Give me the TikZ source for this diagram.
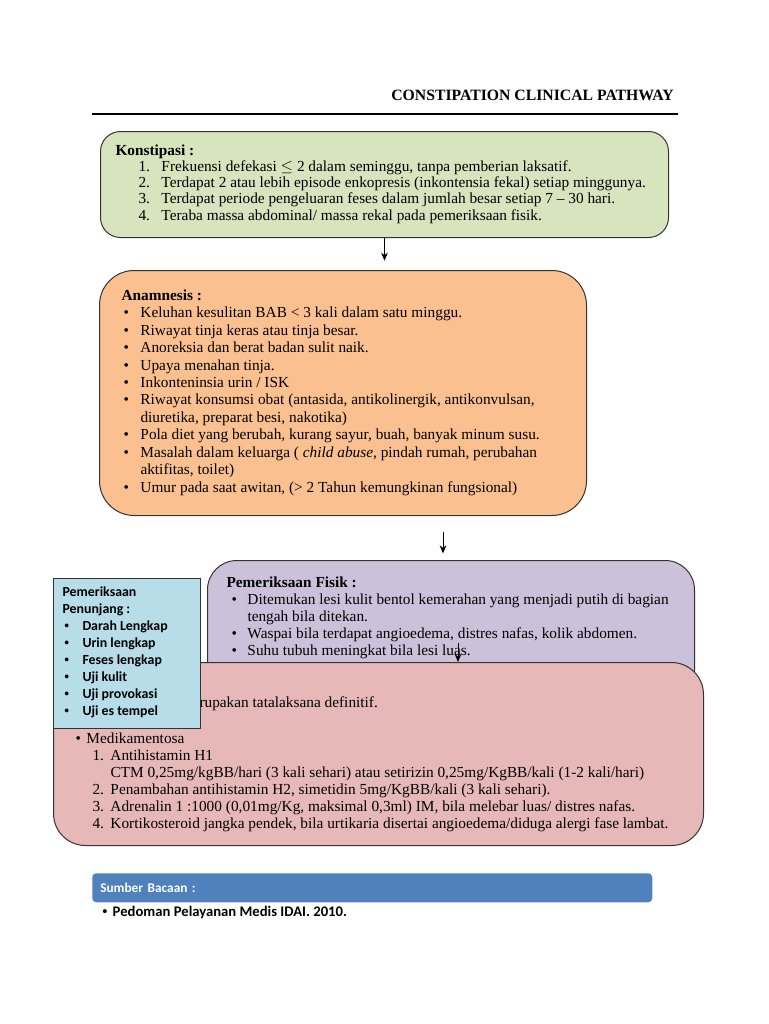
\documentclass[tikz,border=0pt]{standalone}
\usepackage{fontspec}
\setmainfont{Liberation Serif}
\newfontfamily\calibri{Carlito}
\usetikzlibrary{arrows.meta}

\definecolor{boxline}{HTML}{333333}
\definecolor{konstfill}{HTML}{D7E4BD}
\definecolor{anamfill}{HTML}{FAC090}
\definecolor{fisikfill}{HTML}{CCC1DA}
\definecolor{terapifill}{HTML}{E6B9B8}
\definecolor{tunjangfill}{HTML}{B7DDE8}
\definecolor{sumberfill}{HTML}{4F81BD}

% list line: label offset, text offset, label
\newcommand{\litem}[3]{\par\hangindent=#2\hangafter=1\noindent\makebox[#2][l]{\hspace*{#1}#3}\ignorespaces}
\newcommand{\sbul}{{\fontspec{Liberation Serif}\textbullet}}

\tikzstyle{pathbox}=[draw=boxline, line width=0.75pt, anchor=north west, inner sep=0pt]
\tikzstyle{arrowdown}=[line width=0.7pt, -{Stealth[length=6pt,width=5pt]}]

\begin{document}
\begin{tikzpicture}[x=0.75pt, y=-0.75pt]
\useasboundingbox (0,0) rectangle (768,1024);
% header
\node (title) [anchor=base east, inner sep=0pt, font=\bfseries\fontsize{11.8}{13}\selectfont] at (674,100) {CONSTIPATION CLINICAL PATHWAY};
\coordinate (ruleL) at (92,114);
\coordinate (ruleR) at (678,114);
\draw[line width=1.5pt] (ruleL) -- (ruleR);

% boxes
\node (konst) [pathbox, fill=konstfill, rounded corners=15pt, inner xsep=11.25pt, inner ysep=9.75pt] at (100,131) {\begin{minipage}[t][60pt][t]{403.5pt}\fontsize{11.5}{12.2}\selectfont\raggedright
\textbf{Konstipasi :}
\litem{17.25pt}{34.5pt}{1.} Frekuensi defekasi $\leq$ 2 dalam seminggu, tanpa pemberian laksatif.
\litem{17.25pt}{34.5pt}{2.} Terdapat 2 atau lebih episode enkopresis (inkontensia fekal) setiap minggunya.
\litem{17.25pt}{34.5pt}{3.} Terdapat periode pengeluaran feses dalam jumlah besar setiap 7 -- 30 hari.
\litem{17.25pt}{34.5pt}{4.} Teraba massa abdominal/ massa rekal pada pemeriksaan fisik.
\end{minipage}};

\node (anam) [pathbox, fill=anamfill, rounded corners=26pt, inner xsep=16.5pt, inner ysep=14.25pt] at (99,270) {\begin{minipage}[t][155.25pt][t]{332.25pt}\fontsize{11.5}{13.1}\selectfont\raggedright
\textbf{Anamnesis :}
\litem{1.5pt}{14.25pt}{\textbullet} Keluhan kesulitan BAB < 3 kali dalam satu minggu.
\litem{1.5pt}{14.25pt}{\textbullet} Riwayat tinja keras atau tinja besar.
\litem{1.5pt}{14.25pt}{\textbullet} Anoreksia dan berat badan sulit naik.
\litem{1.5pt}{14.25pt}{\textbullet} Upaya menahan tinja.
\litem{1.5pt}{14.25pt}{\textbullet} Inkonteninsia urin / ISK
\litem{1.5pt}{14.25pt}{\textbullet} Riwayat konsumsi obat (antasida, antikolinergik, antikonvulsan, diuretika, preparat besi, nakotika)
\litem{1.5pt}{14.25pt}{\textbullet} Pola diet yang berubah, kurang sayur, buah, banyak minum susu.
\litem{1.5pt}{14.25pt}{\textbullet} Masalah dalam keluarga ( \textit{child abuse}, pindah rumah, perubahan aktifitas, toilet)
\litem{1.5pt}{14.25pt}{\textbullet} Umur pada saat awitan, (> 2 Tahun kemungkinan fungsional)
\end{minipage}};

\node (fisik) [pathbox, fill=fisikfill, rounded corners=22pt, inner xsep=14.25pt, inner ysep=12pt] at (207,560) {\begin{minipage}[t][81pt][t]{336.75pt}\fontsize{11.5}{12.75}\selectfont\raggedright
\textbf{Pemeriksaan Fisik :}
\litem{3.75pt}{15.75pt}{\textbullet} Ditemukan lesi kulit bentol kemerahan yang menjadi putih di bagian tengah bila ditekan.
\litem{3.75pt}{15.75pt}{\textbullet} Waspai bila terdapat angioedema, distres nafas, kolik abdomen.
\litem{3.75pt}{15.75pt}{\textbullet} Suhu tubuh meningkat bila lesi luas.
\end{minipage}};

\node (terapi) [pathbox, fill=terapifill, rounded corners=24pt, inner xsep=12.75pt, inner ysep=10pt] at (53,662) {\begin{minipage}[t][117.25pt][t]{462pt}\fontsize{11.5}{12.75}\selectfont\raggedright
\vspace*{15.5pt}\hspace*{96.75pt}rupakan tatalaksana definitif.\par
\vspace{14.25pt}
\litem{3.75pt}{12pt}{\textbullet} Medikamentosa
\litem{16.5pt}{30pt}{1.} Antihistamin H1\par
\hspace*{30pt}CTM 0,25mg/kgBB/hari (3 kali sehari) atau setirizin 0,25mg/KgBB/kali (1-2 kali/hari)
\litem{16.5pt}{30pt}{2.} Penambahan antihistamin H2, simetidin 5mg/KgBB/kali (3 kali sehari).
\litem{16.5pt}{30pt}{3.} Adrenalin 1 :1000 (0,01mg/Kg, maksimal 0,3ml) IM, bila melebar luas/ distres nafas.
\litem{16.5pt}{30pt}{4.} Kortikosteroid jangka pendek, bila urtikaria disertai angioedema/diduga alergi fase lambat.
\end{minipage}};

\node (tunjang) [pathbox, fill=tunjangfill, inner xsep=6.75pt, inner ysep=6.5pt] at (53,578) {\begin{minipage}[t][99.5pt][t]{96.75pt}\calibri\bfseries\fontsize{10.4}{12.75}\selectfont
Pemeriksaan\par
Penunjang :
\litem{1.5pt}{15pt}{\sbul} Darah Lengkap
\litem{1.5pt}{15pt}{\sbul} Urin lengkap
\litem{1.5pt}{15pt}{\sbul} Feses lengkap
\litem{1.5pt}{15pt}{\sbul} Uji kulit
\litem{1.5pt}{15pt}{\sbul} Uji provokasi
\litem{1.5pt}{15pt}{\sbul} Uji es tempel
\end{minipage}};

% arrows
\coordinate (fork2) at (443,532);
\coordinate (fork3) at (458,643);
\draw[arrowdown, shorten >=7pt] (konst.south) -- (konst.south |- anam.north);
\draw[arrowdown, shorten >=5pt] (fork2) -- (fork2 |- fisik.north);
\draw[arrowdown] (fork3) -- (fork3 |- terapi.north);

% sources
\node (sumber) [anchor=north west, fill=sumberfill, rounded corners=3pt, minimum width=420pt, minimum height=21.75pt, inner xsep=6pt, text width=408pt, text=white, font=\calibri\bfseries\fontsize{10}{12}\selectfont] at (92,873) {Sumber Bacaan :};
\node (ref) [anchor=west, inner sep=0pt, font=\calibri\bfseries\fontsize{11}{13}\selectfont] at (102,912) {\sbul\hspace{4pt}Pedoman Pelayanan Medis IDAI. 2010.};
\end{tikzpicture}
\end{document}
